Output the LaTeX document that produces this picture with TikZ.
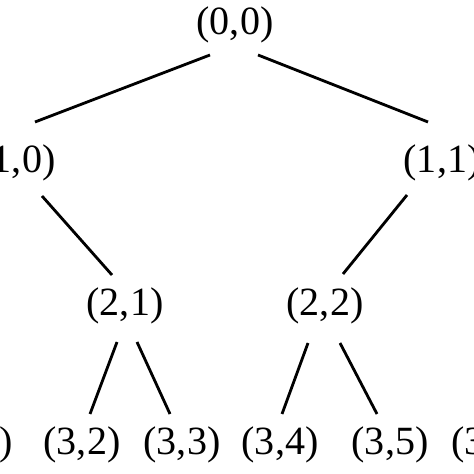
\documentclass[tikz,border=0pt]{standalone}
\usepackage{fontspec}
\setmainfont{Liberation Serif}

\begin{document}
\begin{tikzpicture}[pair/.style={inner sep=0pt, font=\fontsize{11.4}{13}\selectfont},
    link/.style={line width=0.8pt}]
\useasboundingbox (0,0) rectangle (4.74,4.74);   % fix the frame

    \node [pair] (r) at (2.35,4.49) {(0,0)};        % root
    \node [pair] (n10) at (0.17,3.11) {(1,0)};      % first level
    \node [pair] (n11) at (4.42,3.11) {(1,1)};
    \node [pair] (n21) at (1.25,1.68) {(2,1)};      % second level
    \node [pair] (n22) at (3.25,1.68) {(2,2)};
    \foreach \k/\x in {1/-0.26, 2/0.82, 3/1.82, 4/2.80, 5/3.90, 6/4.90}
        \node [pair] (b\k) at (\x,0.29) {(3,\k)};   % bottom row

    \draw [link] ([shift={(-0.25,-0.30)}]r.center) -- ([shift={(0.18,0.41)}]n10.center);
    \draw [link] ([shift={(0.23,-0.30)}]r.center) -- ([shift={(-0.14,0.41)}]n11.center);
    \draw [link] ([shift={(0.25,-0.33)}]n10.center) -- ([shift={(-0.13,0.31)}]n21.center);
    \draw [link] ([shift={(-0.35,-0.32)}]n11.center) -- ([shift={(0.18,0.32)}]n22.center);
    \draw [link] ([shift={(-0.08,-0.36)}]n21.center) -- ([shift={(0.08,0.31)}]b2.center);
    \draw [link] ([shift={(0.12,-0.36)}]n21.center) -- ([shift={(-0.12,0.31)}]b3.center);
    \draw [link] ([shift={(-0.17,-0.37)}]n22.center) -- ([shift={(0.02,0.31)}]b4.center);
    \draw [link] ([shift={(0.15,-0.37)}]n22.center) -- ([shift={(-0.13,0.31)}]b5.center);

\end{tikzpicture}
\end{document}
